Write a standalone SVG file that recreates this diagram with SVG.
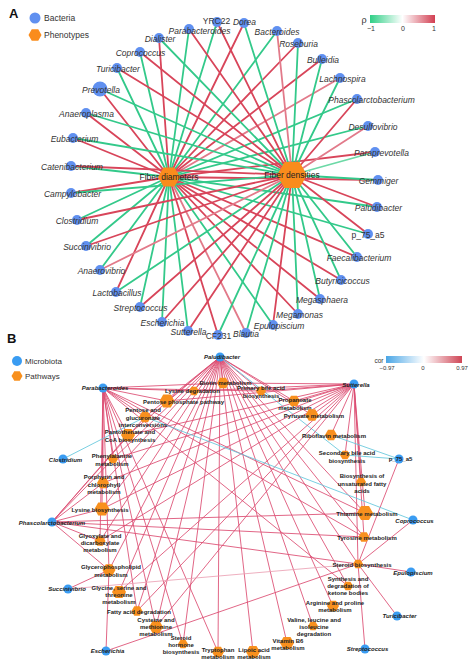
<svg xmlns="http://www.w3.org/2000/svg" xmlns:xlink="http://www.w3.org/1999/xlink" width="474" height="665" viewBox="0 0 474 665">
<style>
.bg{fill:#fff}
.ea line{stroke-width:1.8;stroke-linecap:round}
.r{stroke:#d8455a}
.p{stroke:#e27a8a}
.g{stroke:#33c98a}
.l{stroke:#6cd9a6}
.eb line{stroke-width:0.85}
.rb{stroke:#dc4a70}
.pb{stroke:#eba0b4}
.cb{stroke:#62c6dc}
.bac{fill:#6090f0}
.mic{fill:#3a9cf2}
.hex{fill:#fa8c1c}
.hexb{fill:#f8901e}
.ba{font-family:"Liberation Sans",Arial,sans-serif;font-size:8.5px;font-style:italic;fill:#333;text-anchor:middle}
.hub{font-family:"Liberation Sans",Arial,sans-serif;font-size:8.5px;fill:#222;text-anchor:middle}
.leg{font-family:"Liberation Sans",Arial,sans-serif;font-size:8.5px;fill:#333}
.lab{font-family:"Liberation Sans",Arial,sans-serif;font-size:13px;font-weight:bold;fill:#111}
.tick{font-family:"Liberation Sans",Arial,sans-serif;font-size:7px;fill:#333;text-anchor:middle}
.pw{font-family:"Liberation Sans",Arial,sans-serif;font-size:6px;font-weight:bold;fill:#222;text-anchor:middle}
.mb{font-family:"Liberation Sans",Arial,sans-serif;font-size:6px;font-weight:bold;font-style:italic;fill:#222;text-anchor:middle}
</style>
<defs>
<polygon id="hx" points="1,0 0.5,0.866 -0.5,0.866 -1,0 -0.5,-0.866 0.5,-0.866"/>
<linearGradient id="gA" x1="0" y1="0" x2="1" y2="0">
<stop offset="0" stop-color="#2fcf86"/><stop offset="0.5" stop-color="#ffffff"/><stop offset="1" stop-color="#d23f52"/>
</linearGradient>
<linearGradient id="gB" x1="0" y1="0" x2="1" y2="0">
<stop offset="0" stop-color="#4aa6e6"/><stop offset="0.5" stop-color="#ffffff"/><stop offset="1" stop-color="#cf4555"/>
</linearGradient>
</defs>
<rect class="bg" x="0" y="0" width="474" height="665"/>

<!-- Panel A -->
<text class="lab" x="9" y="18">A</text>
<g id="legendA">
<circle class="bac" cx="35" cy="18" r="5.5"/>
<text class="leg" x="44" y="21">Bacteria</text>
<use xlink:href="#hx" class="hex" transform="translate(35,35) scale(6.5)"/>
<text class="leg" x="44" y="38">Phenotypes</text>
</g>
<g id="colorbarA">
<rect x="370" y="15" width="65" height="8" fill="url(#gA)"/>
<text class="tick" x="364" y="23" style="font-size:9px">ρ</text>
<text class="tick" x="371" y="31">−1</text>
<text class="tick" x="403" y="31">0</text>
<text class="tick" x="434" y="31">1</text>
</g>

<g id="edgesA" class="ea">
<line class="g" x1="169" y1="177" x2="217" y2="22"/>
<line class="r" x1="169" y1="177" x2="244" y2="23"/>
<line class="g" x1="169" y1="177" x2="189" y2="29"/>
<line class="g" x1="169" y1="177" x2="277" y2="31"/>
<line class="r" x1="169" y1="177" x2="159" y2="38"/>
<line class="r" x1="169" y1="177" x2="298" y2="43"/>
<line class="g" x1="169" y1="177" x2="140" y2="52"/>
<line class="r" x1="169" y1="177" x2="322" y2="59"/>
<line class="g" x1="169" y1="177" x2="117" y2="68"/>
<line class="p" x1="169" y1="177" x2="340" y2="78"/>
<line class="r" x1="169" y1="177" x2="100" y2="89"/>
<line class="g" x1="169" y1="177" x2="357" y2="99"/>
<line class="r" x1="169" y1="177" x2="86" y2="113"/>
<line class="r" x1="169" y1="177" x2="73" y2="138"/>
<line class="g" x1="169" y1="177" x2="71" y2="166"/>
<line class="r" x1="169" y1="177" x2="71" y2="193"/>
<line class="g" x1="169" y1="177" x2="77" y2="220"/>
<line class="g" x1="169" y1="177" x2="86" y2="246"/>
<line class="g" x1="169" y1="177" x2="100" y2="270"/>
<line class="r" x1="169" y1="177" x2="116" y2="292"/>
<line class="g" x1="169" y1="177" x2="140" y2="307"/>
<line class="g" x1="169" y1="177" x2="162" y2="322"/>
<line class="g" x1="169" y1="177" x2="188" y2="331"/>
<line class="r" x1="169" y1="177" x2="218" y2="335"/>
<line class="p" x1="169" y1="177" x2="246" y2="333"/>
<line class="g" x1="169" y1="177" x2="273" y2="325"/>
<line class="r" x1="169" y1="177" x2="298" y2="314"/>
<line class="r" x1="169" y1="177" x2="320" y2="299"/>
<line class="r" x1="169" y1="177" x2="341" y2="280"/>
<line class="r" x1="169" y1="177" x2="357" y2="257"/>
<line class="g" x1="169" y1="177" x2="368" y2="234"/>
<line class="g" x1="169" y1="177" x2="377" y2="207"/>
<line class="r" x1="169" y1="177" x2="378" y2="180"/>
<line class="r" x1="169" y1="177" x2="375" y2="152"/>
<line class="g" x1="169" y1="177" x2="368" y2="126"/>

<line class="r" x1="292" y1="175" x2="217" y2="22"/>
<line class="g" x1="292" y1="175" x2="244" y2="23"/>
<line class="r" x1="292" y1="175" x2="189" y2="29"/>
<line class="p" x1="292" y1="175" x2="277" y2="31"/>
<line class="g" x1="292" y1="175" x2="159" y2="38"/>
<line class="g" x1="292" y1="175" x2="298" y2="43"/>
<line class="r" x1="292" y1="175" x2="140" y2="52"/>
<line class="g" x1="292" y1="175" x2="322" y2="59"/>
<line class="r" x1="292" y1="175" x2="117" y2="68"/>
<line class="g" x1="292" y1="175" x2="340" y2="78"/>
<line class="g" x1="292" y1="175" x2="100" y2="89"/>
<line class="r" x1="292" y1="175" x2="357" y2="99"/>
<line class="g" x1="292" y1="175" x2="86" y2="113"/>
<line class="g" x1="292" y1="175" x2="73" y2="138"/>
<line class="r" x1="292" y1="175" x2="71" y2="166"/>
<line class="g" x1="292" y1="175" x2="71" y2="193"/>
<line class="r" x1="292" y1="175" x2="77" y2="220"/>
<line class="r" x1="292" y1="175" x2="86" y2="246"/>
<line class="p" x1="292" y1="175" x2="100" y2="270"/>
<line class="g" x1="292" y1="175" x2="116" y2="292"/>
<line class="r" x1="292" y1="175" x2="140" y2="307"/>
<line class="r" x1="292" y1="175" x2="162" y2="322"/>
<line class="r" x1="292" y1="175" x2="188" y2="331"/>
<line class="g" x1="292" y1="175" x2="218" y2="335"/>
<line class="g" x1="292" y1="175" x2="246" y2="333"/>
<line class="r" x1="292" y1="175" x2="273" y2="325"/>
<line class="g" x1="292" y1="175" x2="298" y2="314"/>
<line class="g" x1="292" y1="175" x2="320" y2="299"/>
<line class="g" x1="292" y1="175" x2="341" y2="280"/>
<line class="g" x1="292" y1="175" x2="357" y2="257"/>
<line class="r" x1="292" y1="175" x2="368" y2="234"/>
<line class="r" x1="292" y1="175" x2="377" y2="207"/>
<line class="g" x1="292" y1="175" x2="378" y2="180"/>
<line class="l" x1="292" y1="175" x2="375" y2="152"/>
<line class="p" x1="292" y1="175" x2="368" y2="126"/>
</g>

<g id="nodesA">
<g id="a-yrc22"><circle class="bac" cx="217" cy="22" r="5"/><text class="ba" x="216.5" y="23.5" style="font-style:normal">YRC22</text></g>
<g id="a-dorea"><circle class="bac" cx="244" cy="23" r="5"/><text class="ba" x="244.5" y="25">Dorea</text></g>
<g id="a-parabacteroides"><circle class="bac" cx="189" cy="29" r="5"/><text class="ba" x="199.5" y="34">Parabacteroides</text></g>
<g id="a-bacteroides"><circle class="bac" cx="277" cy="31" r="5"/><text class="ba" x="277" y="35">Bacteroides</text></g>
<g id="a-dialister"><circle class="bac" cx="159" cy="38" r="5"/><text class="ba" x="160" y="42">Dialister</text></g>
<g id="a-roseburia"><circle class="bac" cx="298" cy="43" r="5"/><text class="ba" x="298.5" y="47">Roseburia</text></g>
<g id="a-coprococcus"><circle class="bac" cx="140" cy="52" r="5"/><text class="ba" x="140.5" y="56">Coprococcus</text></g>
<g id="a-bulleidia"><circle class="bac" cx="322" cy="59" r="5"/><text class="ba" x="323" y="63">Bulleidia</text></g>
<g id="a-turicibacter"><circle class="bac" cx="117" cy="68" r="5"/><text class="ba" x="118" y="72">Turicibacter</text></g>
<g id="a-lachnospira"><circle class="bac" cx="340" cy="78" r="5"/><text class="ba" x="342.5" y="82">Lachnospira</text></g>
<g id="a-prevotella"><circle class="bac" cx="100" cy="89" r="7.5"/><text class="ba" x="101" y="93">Prevotella</text></g>
<g id="a-phascolarctobacterium"><circle class="bac" cx="357" cy="99" r="5"/><text class="ba" x="371.5" y="103">Phascolarctobacterium</text></g>
<g id="a-anaeroplasma"><circle class="bac" cx="86" cy="113" r="5"/><text class="ba" x="86.5" y="117">Anaeroplasma</text></g>
<g id="a-eubacterium"><circle class="bac" cx="73" cy="138" r="5"/><text class="ba" x="74.5" y="142">Eubacterium</text></g>
<g id="a-catenibacterium"><circle class="bac" cx="71" cy="166" r="5"/><text class="ba" x="72" y="170">Catenibacterium</text></g>
<g id="a-campylobacter"><circle class="bac" cx="71" cy="193" r="5"/><text class="ba" x="72.5" y="197">Campylobacter</text></g>
<g id="a-clostridium"><circle class="bac" cx="77" cy="220" r="5"/><text class="ba" x="77" y="224">Clostridium</text></g>
<g id="a-succinivibrio"><circle class="bac" cx="86" cy="246" r="5"/><text class="ba" x="87" y="250">Succinivibrio</text></g>
<g id="a-anaerovibrio"><circle class="bac" cx="100" cy="270" r="5"/><text class="ba" x="101.5" y="274">Anaerovibrio</text></g>
<g id="a-lactobacillus"><circle class="bac" cx="116" cy="292" r="5"/><text class="ba" x="117" y="296">Lactobacillus</text></g>
<g id="a-streptococcus"><circle class="bac" cx="140" cy="307" r="5"/><text class="ba" x="140.5" y="311">Streptococcus</text></g>
<g id="a-escherichia"><circle class="bac" cx="162" cy="322" r="5"/><text class="ba" x="162.5" y="326">Escherichia</text></g>
<g id="a-sutterella"><circle class="bac" cx="188" cy="331" r="5"/><text class="ba" x="188.5" y="335">Sutterella</text></g>
<g id="a-cf231"><circle class="bac" cx="218" cy="335" r="5"/><text class="ba" x="218.5" y="339" style="font-style:normal">CF231</text></g>
<g id="a-blautia"><circle class="bac" cx="246" cy="333" r="5"/><text class="ba" x="246" y="337">Blautia</text></g>
<g id="a-epulopiscium"><circle class="bac" cx="273" cy="325" r="5"/><text class="ba" x="279" y="329">Epulopiscium</text></g>
<g id="a-megamonas"><circle class="bac" cx="298" cy="314" r="5"/><text class="ba" x="299.5" y="318">Megamonas</text></g>
<g id="a-megasphaera"><circle class="bac" cx="320" cy="299" r="5"/><text class="ba" x="322" y="303">Megasphaera</text></g>
<g id="a-butyricicoccus"><circle class="bac" cx="341" cy="280" r="5"/><text class="ba" x="342.5" y="284">Butyricicoccus</text></g>
<g id="a-faecalibacterium"><circle class="bac" cx="357" cy="257" r="5"/><text class="ba" x="359" y="261">Faecalibacterium</text></g>
<g id="a-p75a5"><circle class="bac" cx="368" cy="234" r="5"/><text class="ba" x="368" y="238" style="font-style:normal">p_75_a5</text></g>
<g id="a-paludibacter"><circle class="bac" cx="377" cy="207" r="5"/><text class="ba" x="378.5" y="211">Paludibacter</text></g>
<g id="a-gemmiger"><circle class="bac" cx="378" cy="180" r="5"/><text class="ba" x="378.5" y="184">Gemmiger</text></g>
<g id="a-paraprevotella"><circle class="bac" cx="375" cy="152" r="5"/><text class="ba" x="381.5" y="156">Paraprevotella</text></g>
<g id="a-desulfovibrio"><circle class="bac" cx="368" cy="126" r="5"/><text class="ba" x="373" y="130">Desulfovibrio</text></g>
<g id="a-fiber-diameters"><use xlink:href="#hx" class="hex" transform="translate(169,177) scale(11)"/><text class="hub" x="169" y="180">Fiber diameters</text></g>
<g id="a-fiber-densities"><use xlink:href="#hx" class="hex" transform="translate(292,175) scale(15)"/><text class="hub" x="292" y="178">Fiber densities</text></g>
</g>

<!-- Panel B -->
<text class="lab" x="7" y="343">B</text>
<g id="legendB">
<circle class="mic" cx="17" cy="361" r="5"/>
<text class="leg" x="25" y="364" style="font-size:8px">Microbiota</text>
<use xlink:href="#hx" class="hexb" transform="translate(17,376) scale(5.5)"/>
<text class="leg" x="25" y="379" style="font-size:8px">Pathways</text>
</g>
<g id="colorbarB">
<rect x="386" y="356" width="76" height="7" fill="url(#gB)"/>
<text class="tick" x="379" y="363" style="font-size:6.5px">cor</text>
<text class="tick" x="387" y="370" style="font-size:6px">−0.97</text>
<text class="tick" x="423" y="370" style="font-size:6px">0</text>
<text class="tick" x="462" y="370" style="font-size:6px">0.97</text>
</g>

<g id="edgesB" class="eb">
<!-- Paludibacter -->
<line class="rb" x1="220" y1="357" x2="223" y2="383"/>
<line class="rb" x1="220" y1="357" x2="194" y2="391"/>
<line class="rb" x1="220" y1="357" x2="261" y2="391"/>
<line class="rb" x1="220" y1="357" x2="167" y2="401"/>
<line class="rb" x1="220" y1="357" x2="294" y2="401"/>
<line class="rb" x1="220" y1="357" x2="312" y2="415"/>
<line class="rb" x1="220" y1="357" x2="145" y2="417"/>
<line class="rb" x1="220" y1="357" x2="128" y2="435"/>
<line class="rb" x1="220" y1="357" x2="113" y2="459"/>
<line class="rb" x1="220" y1="357" x2="103" y2="483"/>
<line class="rb" x1="220" y1="357" x2="102" y2="509"/>
<line class="rb" x1="220" y1="357" x2="100" y2="541"/>
<line class="rb" x1="220" y1="357" x2="109" y2="570"/>
<line class="rb" x1="220" y1="357" x2="119" y2="592"/>
<line class="rb" x1="220" y1="357" x2="137" y2="611"/>
<line class="rb" x1="220" y1="357" x2="156" y2="627"/>
<line class="rb" x1="220" y1="357" x2="183" y2="644"/>
<line class="rb" x1="220" y1="357" x2="218" y2="652"/>
<line class="rb" x1="220" y1="357" x2="253" y2="652"/>
<line class="rb" x1="220" y1="357" x2="287" y2="643"/>
<line class="rb" x1="220" y1="357" x2="313" y2="626"/>
<line class="rb" x1="220" y1="357" x2="333" y2="606"/>
<line class="rb" x1="220" y1="357" x2="348" y2="586"/>
<line class="rb" x1="220" y1="357" x2="358" y2="564"/>
<line class="rb" x1="220" y1="357" x2="365" y2="513"/>
<line class="rb" x1="220" y1="357" x2="364" y2="537"/>
<line class="cb" x1="220" y1="357" x2="345" y2="455"/>
<!-- Parabacteroides -->
<line class="rb" x1="103" y1="388" x2="223" y2="383"/>
<line class="rb" x1="103" y1="388" x2="194" y2="391"/>
<line class="rb" x1="103" y1="388" x2="261" y2="391"/>
<line class="rb" x1="103" y1="388" x2="167" y2="401"/>
<line class="rb" x1="103" y1="388" x2="145" y2="417"/>
<line class="rb" x1="103" y1="388" x2="128" y2="435"/>
<line class="rb" x1="103" y1="388" x2="113" y2="459"/>
<line class="rb" x1="103" y1="388" x2="103" y2="483"/>
<line class="rb" x1="103" y1="388" x2="102" y2="509"/>
<line class="rb" x1="103" y1="388" x2="100" y2="541"/>
<line class="rb" x1="103" y1="388" x2="109" y2="570"/>
<line class="rb" x1="103" y1="388" x2="137" y2="611"/>
<line class="rb" x1="103" y1="388" x2="156" y2="627"/>
<line class="rb" x1="103" y1="388" x2="218" y2="652"/>
<line class="rb" x1="103" y1="388" x2="183" y2="644"/>
<line class="rb" x1="103" y1="388" x2="365" y2="513"/>
<line class="rb" x1="103" y1="388" x2="364" y2="537"/>
<line class="rb" x1="103" y1="388" x2="348" y2="586"/>
<!-- Sutterella -->
<line class="rb" x1="354" y1="384" x2="223" y2="383"/>
<line class="rb" x1="354" y1="384" x2="194" y2="391"/>
<line class="rb" x1="354" y1="384" x2="167" y2="401"/>
<line class="rb" x1="354" y1="384" x2="261" y2="391"/>
<line class="rb" x1="354" y1="384" x2="294" y2="401"/>
<line class="rb" x1="354" y1="384" x2="312" y2="415"/>
<line class="rb" x1="354" y1="384" x2="331" y2="435"/>
<line class="rb" x1="354" y1="384" x2="345" y2="455"/>
<line class="rb" x1="354" y1="384" x2="361" y2="482"/>
<line class="rb" x1="354" y1="384" x2="365" y2="513"/>
<line class="rb" x1="354" y1="384" x2="364" y2="537"/>
<line class="rb" x1="354" y1="384" x2="358" y2="564"/>
<line class="rb" x1="354" y1="384" x2="128" y2="435"/>
<line class="rb" x1="354" y1="384" x2="113" y2="459"/>
<line class="rb" x1="354" y1="384" x2="103" y2="483"/>
<line class="rb" x1="354" y1="384" x2="102" y2="509"/>
<line class="rb" x1="354" y1="384" x2="100" y2="541"/>
<line class="rb" x1="354" y1="384" x2="119" y2="592"/>
<line class="rb" x1="354" y1="384" x2="137" y2="611"/>
<line class="rb" x1="354" y1="384" x2="156" y2="627"/>
<!-- Phascolarctobacterium -->
<line class="rb" x1="52" y1="522" x2="103" y2="483"/>
<line class="rb" x1="52" y1="522" x2="128" y2="435"/>
<line class="rb" x1="52" y1="522" x2="102" y2="509"/>
<line class="rb" x1="52" y1="522" x2="100" y2="541"/>
<line class="rb" x1="52" y1="522" x2="109" y2="570"/>
<line class="rb" x1="52" y1="522" x2="358" y2="564"/>
<line class="rb" x1="52" y1="522" x2="365" y2="513"/>
<line class="rb" x1="52" y1="522" x2="364" y2="537"/>
<line class="rb" x1="52" y1="522" x2="113" y2="459"/>
<line class="rb" x1="52" y1="522" x2="145" y2="417"/>
<!-- Steroid biosynthesis -->
<line class="rb" x1="358" y1="564" x2="411" y2="572"/>
<line class="rb" x1="358" y1="564" x2="397" y2="616"/>
<line class="rb" x1="358" y1="564" x2="365" y2="649"/>
<line class="rb" x1="358" y1="564" x2="106" y2="651"/>
<line class="pb" x1="358" y1="564" x2="68" y2="589"/>
<line class="rb" x1="358" y1="564" x2="413" y2="520"/>
<line class="rb" x1="358" y1="564" x2="399" y2="459"/>
<!-- Glycerophospholipid -->
<line class="rb" x1="109" y1="570" x2="106" y2="651"/>
<line class="rb" x1="109" y1="570" x2="68" y2="589"/>
<!-- negative correlations -->
<line class="cb" x1="63" y1="459" x2="145" y2="417"/>
<line class="cb" x1="413" y1="520" x2="145" y2="417"/>
<line class="cb" x1="399" y1="459" x2="345" y2="455"/>
<line class="cb" x1="399" y1="459" x2="331" y2="435"/>
</g>

<g id="nodesB">
<g id="b-biotin"><use xlink:href="#hx" class="hexb" transform="translate(223,383) scale(6)"/><text class="pw" x="225.5" y="385">Biotin metabolism</text></g>
<g id="b-lysdeg"><use xlink:href="#hx" class="hexb" transform="translate(194,391) scale(5)"/><text class="pw" x="192.5" y="393">Lysine degradation</text></g>
<g id="b-pribile"><use xlink:href="#hx" class="hexb" transform="translate(261,391) scale(5)"/><text class="pw" x="261" y="390">Primary bile acid<tspan x="261" dy="7.5">biosynthesis</tspan></text></g>
<g id="b-pentphos"><use xlink:href="#hx" class="hexb" transform="translate(167,401) scale(7.5)"/><text class="pw" x="183.5" y="404">Pentose phosphate pathway</text></g>
<g id="b-propan"><use xlink:href="#hx" class="hexb" transform="translate(294,401) scale(6)"/><text class="pw" x="295" y="402">Propanoate<tspan x="295" dy="7.5">metabolism</tspan></text></g>
<g id="b-pyruv"><use xlink:href="#hx" class="hexb" transform="translate(312,415) scale(6.5)"/><text class="pw" x="314" y="418">Pyruvate metabolism</text></g>
<g id="b-pentgluc"><use xlink:href="#hx" class="hexb" transform="translate(145,417) scale(6)"/><text class="pw" x="143" y="412">Pentose and<tspan x="143" dy="7.5">glucuronate</tspan><tspan x="143" dy="7.5">interconversions</tspan></text></g>
<g id="b-panto"><use xlink:href="#hx" class="hexb" transform="translate(128,435) scale(7)"/><text class="pw" x="130" y="434">Pantothenate and<tspan x="130" dy="7.5">CoA biosynthesis</tspan></text></g>
<g id="b-ribo"><use xlink:href="#hx" class="hexb" transform="translate(331,435) scale(6)"/><text class="pw" x="334" y="438">Riboflavin metabolism</text></g>
<g id="b-secbile"><use xlink:href="#hx" class="hexb" transform="translate(345,455) scale(5)"/><text class="pw" x="347" y="455">Secondary bile acid<tspan x="347" dy="7.5">biosynthesis</tspan></text></g>
<g id="b-phenyl"><use xlink:href="#hx" class="hexb" transform="translate(113,459) scale(5)"/><text class="pw" x="112" y="458">Phenylalanine<tspan x="112" dy="7.5">metabolism</tspan></text></g>
<g id="b-unsat"><use xlink:href="#hx" class="hexb" transform="translate(361,482) scale(5)"/><text class="pw" x="362" y="478">Biosynthesis of<tspan x="362" dy="7.5">unsaturated fatty</tspan><tspan x="362" dy="7.5">acids</tspan></text></g>
<g id="b-porph"><use xlink:href="#hx" class="hexb" transform="translate(103,483) scale(6)"/><text class="pw" x="104" y="479">Porphyrin and<tspan x="104" dy="7.5">chlorophyll</tspan><tspan x="104" dy="7.5">metabolism</tspan></text></g>
<g id="b-lysbio"><use xlink:href="#hx" class="hexb" transform="translate(102,509) scale(7.5)"/><text class="pw" x="100" y="512">Lysine biosynthesis</text></g>
<g id="b-thiam"><use xlink:href="#hx" class="hexb" transform="translate(365,513) scale(8)"/><text class="pw" x="367" y="516">Thiamine metabolism</text></g>
<g id="b-tyros"><use xlink:href="#hx" class="hexb" transform="translate(364,537) scale(5.5)"/><text class="pw" x="367" y="540">Tyrosine metabolism</text></g>
<g id="b-glyox"><use xlink:href="#hx" class="hexb" transform="translate(100,541) scale(5.5)"/><text class="pw" x="100" y="538">Glyoxylate and<tspan x="100" dy="7">dicarboxylate</tspan><tspan x="100" dy="7">metabolism</tspan></text></g>
<g id="b-steroid"><use xlink:href="#hx" class="hexb" transform="translate(358,564) scale(5)"/><text class="pw" x="362" y="567">Steroid biosynthesis</text></g>
<g id="b-glycero"><use xlink:href="#hx" class="hexb" transform="translate(109,570) scale(6.5)"/><text class="pw" x="111" y="569">Glycerophospholipid<tspan x="111" dy="7.5">metabolism</tspan></text></g>
<g id="b-ketone"><use xlink:href="#hx" class="hexb" transform="translate(348,586) scale(5)"/><text class="pw" x="348" y="581">Synthesis and<tspan x="348" dy="7">degradation of</tspan><tspan x="348" dy="7">ketone bodies</tspan></text></g>
<g id="b-glycine"><use xlink:href="#hx" class="hexb" transform="translate(119,592) scale(7)"/><text class="pw" x="119" y="590">Glycine, serine and<tspan x="119" dy="7">threonine</tspan><tspan x="119" dy="7">metabolism</tspan></text></g>
<g id="b-argin"><use xlink:href="#hx" class="hexb" transform="translate(333,606) scale(6)"/><text class="pw" x="335" y="605">Arginine and proline<tspan x="335" dy="7">metabolism</tspan></text></g>
<g id="b-fatty"><use xlink:href="#hx" class="hexb" transform="translate(137,611) scale(5.5)"/><text class="pw" x="139" y="614">Fatty acid degradation</text></g>
<g id="b-valine"><use xlink:href="#hx" class="hexb" transform="translate(313,626) scale(5)"/><text class="pw" x="314" y="622">Valine, leucine and<tspan x="314" dy="7">isoleucine</tspan><tspan x="314" dy="7">degradation</tspan></text></g>
<g id="b-cyst"><use xlink:href="#hx" class="hexb" transform="translate(156,627) scale(7)"/><text class="pw" x="156" y="622">Cysteine and<tspan x="156" dy="7">methionine</tspan><tspan x="156" dy="7">metabolism</tspan></text></g>
<g id="b-sterhorm"><use xlink:href="#hx" class="hexb" transform="translate(183,644) scale(5)"/><text class="pw" x="181" y="640">Steroid<tspan x="181" dy="7">hormone</tspan><tspan x="181" dy="7">biosynthesis</tspan></text></g>
<g id="b-vitb6"><use xlink:href="#hx" class="hexb" transform="translate(287,643) scale(7)"/><text class="pw" x="288" y="643">Vitamin B6<tspan x="288" dy="7">metabolism</tspan></text></g>
<g id="b-trypt"><use xlink:href="#hx" class="hexb" transform="translate(218,652) scale(6)"/><text class="pw" x="218" y="652">Tryptophan<tspan x="218" dy="7">metabolism</tspan></text></g>
<g id="b-lipoic"><use xlink:href="#hx" class="hexb" transform="translate(253,652) scale(7)"/><text class="pw" x="254" y="652">Lipoic acid<tspan x="254" dy="7">metabolism</tspan></text></g>

<g id="b-paludibacter"><circle class="mic" cx="220" cy="357" r="4.5"/><text class="mb" x="222" y="359">Paludibacter</text></g>
<g id="b-parabacteroides"><circle class="mic" cx="103" cy="388" r="4.5"/><text class="mb" x="105" y="390">Parabacteroides</text></g>
<g id="b-sutterella"><circle class="mic" cx="354" cy="384" r="4.5"/><text class="mb" x="356" y="387">Sutterella</text></g>
<g id="b-clostridium"><circle class="mic" cx="63" cy="459" r="4.5"/><text class="mb" x="65.5" y="462">Clostridium</text></g>
<g id="b-p75a5"><circle class="mic" cx="399" cy="459" r="4.5"/><text class="mb" x="400.5" y="461" style="font-style:normal">p_75_a5</text></g>
<g id="b-phascolarctobacterium"><circle class="mic" cx="52" cy="522" r="4.5"/><text class="mb" x="52" y="525">Phascolarctobacterium</text></g>
<g id="b-coprococcus"><circle class="mic" cx="413" cy="520" r="4.5"/><text class="mb" x="414.5" y="523">Coprococcus</text></g>
<g id="b-epulopiscium"><circle class="mic" cx="411" cy="572" r="4.5"/><text class="mb" x="413" y="575">Epulopiscium</text></g>
<g id="b-succinivibrio"><circle class="mic" cx="68" cy="589" r="4.5"/><text class="mb" x="67" y="591">Succinivibrio</text></g>
<g id="b-turicibacter"><circle class="mic" cx="397" cy="616" r="4.5"/><text class="mb" x="399.5" y="618">Turicibacter</text></g>
<g id="b-escherichia"><circle class="mic" cx="106" cy="651" r="4.5"/><text class="mb" x="107.5" y="653">Escherichia</text></g>
<g id="b-streptococcus"><circle class="mic" cx="365" cy="649" r="4.5"/><text class="mb" x="367.5" y="651">Streptococcus</text></g>
</g>
</svg>
